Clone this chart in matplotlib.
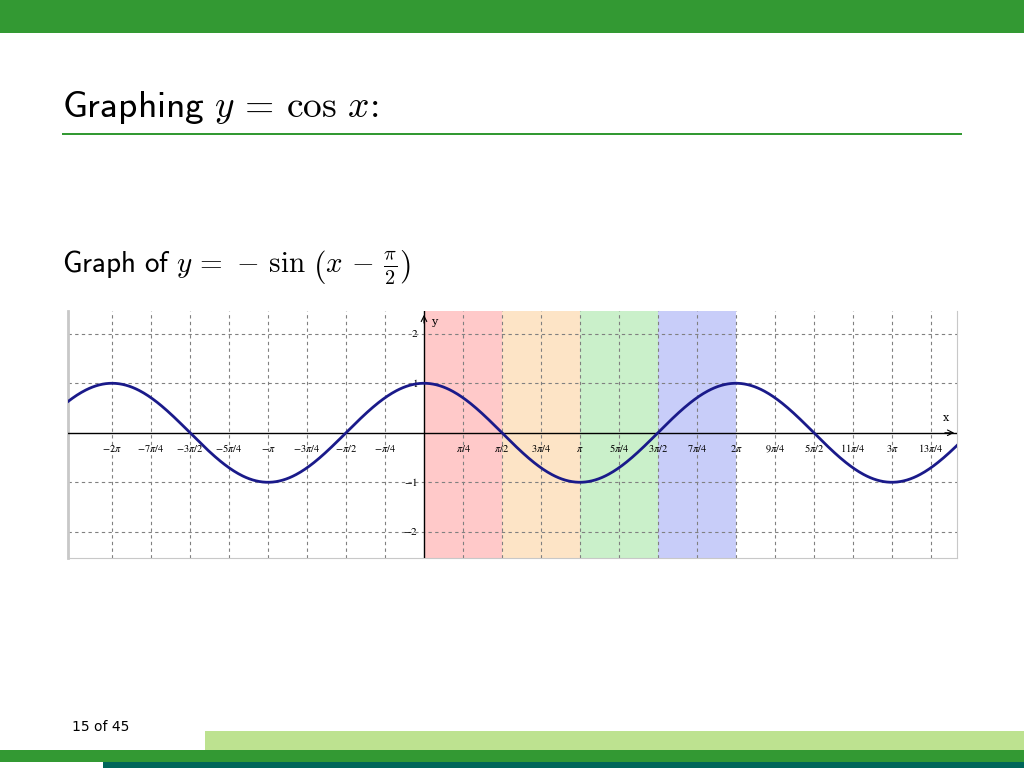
import numpy as np
import matplotlib.pyplot as plt
from matplotlib.patches import Rectangle

plt.rcParams['mathtext.fontset'] = 'cm'

# tick positions (multiples of pi/4) and their labels
x_quarters = [-8, -7, -6, -5, -4, -3, -2, -1, 1, 2, 3, 4, 5, 6, 7, 8, 9, 10, 11, 12, 13]
x_labels = [r'$-2\pi$', r'$-7\pi/4$', r'$-3\pi/2$', r'$-5\pi/4$', r'$-\pi$', r'$-3\pi/4$',
            r'$-\pi/2$', r'$-\pi/4$', r'$\pi/4$', r'$\pi/2$', r'$3\pi/4$', r'$\pi$',
            r'$5\pi/4$', r'$3\pi/2$', r'$7\pi/4$', r'$2\pi$', r'$9\pi/4$', r'$5\pi/2$',
            r'$11\pi/4$', r'$3\pi$', r'$13\pi/4$']
y_ticks = [-2, -1, 1, 2]
y_labels = ['$-2$', '$-1$', '$1$', '$2$']

# quadrant bands of one period
band_edges = [0, np.pi / 2, np.pi, 3 * np.pi / 2, 2 * np.pi]
band_colors = ['#ffc9c9', '#fde4c6', '#caf0ca', '#c8cdf9']

x_lo, x_hi = -9.13 * np.pi / 4, 13.67 * np.pi / 4
y_lo, y_hi = -2.53, 2.46

fig = plt.figure(figsize=(10.24, 7.68), dpi=100)
W, H = 1024.0, 768.0


def box(x0, y0, x1, y1, color):
    # slide decoration in pixel coords (y from top)
    fig.patches.append(Rectangle((x0 / W, 1 - y1 / H), (x1 - x0) / W, (y1 - y0) / H,
                                 transform=fig.transFigure, color=color, lw=0, zorder=0))


# slide frame
box(0, 0, 1024, 33, '#339933')
box(62, 133, 962, 135, '#339933')
box(205, 731, 1024, 750, '#bde290')
box(0, 750, 1024, 762, '#339933')
box(103, 762, 1024, 768, '#00665a')

fig.text(62 / W, 1 - 117 / H, r'$\mathsf{Graphing}\ y \,=\, \cos\, x\!\mathsf{:}$', fontsize=27,
         va='baseline', ha='left')
fig.text(62 / W, 1 - 272 / H,
         r'$\mathsf{Graph\ of}\ y \,=\, -\,\sin\,\left(x \,-\, \frac{\pi}{2}\right)$',
         fontsize=21, va='baseline', ha='left')
fig.text(72 / W, 1 - 731 / H, '15 of 45', fontsize=10,
         family=['Liberation Sans Narrow', 'DejaVu Sans'], va='baseline', ha='left')

# the graph
ax = fig.add_axes([68 / W, 1 - 558 / H, (957 - 68) / W, (558 - 311) / H])
ax.set_xlim(x_lo, x_hi)
ax.set_ylim(y_lo, y_hi)

for i, c in enumerate(band_colors):
    ax.axvspan(band_edges[i], band_edges[i + 1], color=c, lw=0, zorder=0)

grid_x = [k * np.pi / 4 for k in x_quarters]
ax.set_xticks(grid_x)
ax.set_yticks(y_ticks)
ax.tick_params(length=0, labelbottom=False, labelleft=False)
ax.set_axisbelow('line')
ax.grid(True, color='#808080', ls=(0, (3, 3)), lw=0.8)

ax.spines['top'].set_visible(False)
for s in ['left', 'right', 'bottom']:
    ax.spines[s].set_color('#c8c8c8')
ax.spines['left'].set_linewidth(2)

ax.axhline(0, color='black', lw=1, zorder=3)
ax.axvline(0, color='black', lw=1, zorder=3)
ax.annotate('', xy=(x_hi, 0), xytext=(x_hi - 0.3, 0),
            arrowprops=dict(arrowstyle='->', lw=0.8, color='black'))
ax.annotate('', xy=(0, y_hi - 0.02), xytext=(0, y_hi - 0.3),
            arrowprops=dict(arrowstyle='->', lw=0.8, color='black'))
ax.annotate('x', xy=(x_hi, 0), xytext=(-8, 7), textcoords='offset points',
            fontsize=8, family='DejaVu Serif', ha='center', va='bottom')
ax.annotate('y', xy=(0, y_hi), xytext=(5, -8), textcoords='offset points',
            fontsize=8, family='DejaVu Serif', ha='left', va='center')

for xv, lab in zip(grid_x, x_labels):
    ax.annotate(lab, xy=(xv, 0), xytext=(0, -14), textcoords='offset points',
                fontsize=7.5, ha='center', va='baseline', math_fontfamily='stix', zorder=4)
for yv, lab in zip(y_ticks, y_labels):
    ax.annotate(lab, xy=(0, yv), xytext=(-4, 0), textcoords='offset points',
                fontsize=8, ha='right', va='center', math_fontfamily='stix', zorder=4)

xs = np.linspace(x_lo, x_hi, 800)
ax.plot(xs, -np.sin(xs - np.pi / 2), color='#1a1a8a', lw=2, zorder=5)

fig.savefig('out.png', dpi=100)
